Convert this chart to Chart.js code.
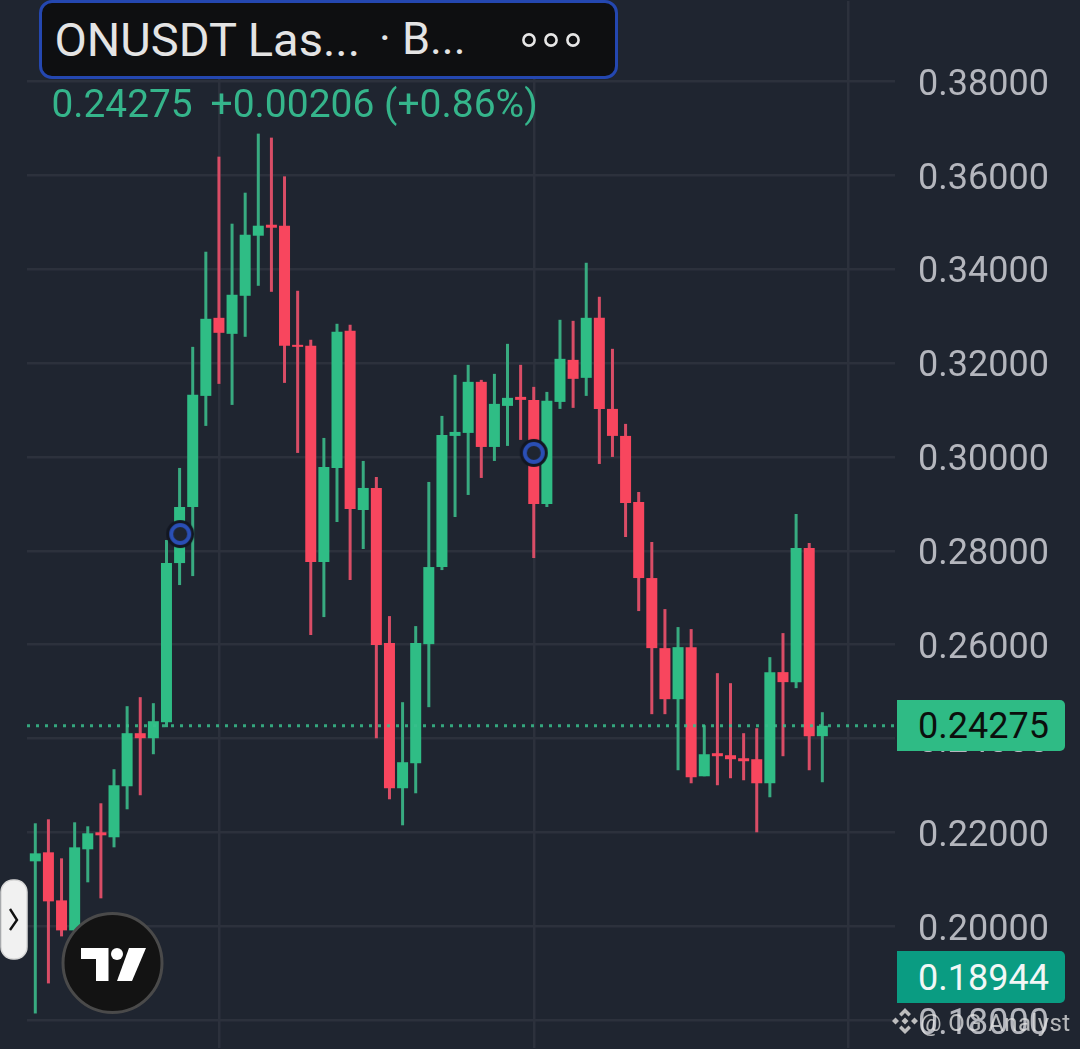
<!DOCTYPE html>
<html>
<head>
<meta charset="utf-8">
<script src="https://cdn.jsdelivr.net/npm/chart.js@4"></script>
<style>
html,body{margin:0;padding:0;background:#1f2530;width:1080px;height:1049px;overflow:hidden;font-family:Roboto,sans-serif}
#wrap{position:relative;width:1080px;height:1049px}
canvas{position:absolute;left:0;top:0}
.abs{position:absolute;white-space:pre;line-height:1}
#box{left:39px;top:0;width:573px;height:73px;background:#0e0f11;border:3px solid #2447b0;border-radius:13px;position:absolute}
.badge{position:absolute;left:897px;width:168px;border-radius:0 5px 5px 0}
svg{position:absolute;overflow:visible}
</style>
</head>
<body>
<div id="wrap">
<canvas id="c" width="1080" height="1049"></canvas>
<div id="box"></div>
<div class="abs" id="title" style="left:54.5px;top:16px;font-size:47px;color:#e4e4e4">ONUSDT Las...</div>
<div class="abs" id="title2" style="left:379px;top:16px;font-size:45px;color:#e4e4e4">· B...</div>
<svg style="left:0;top:0" width="1" height="1"><g fill="none" stroke="#e6e6e6" stroke-width="2.6"><circle cx="529" cy="40" r="5.6"/><circle cx="551" cy="40" r="5.6"/><circle cx="573" cy="40" r="5.6"/></g></svg>
<div class="abs" id="lastInfo" style="left:51.5px;top:85px;font-size:38.8px;color:#35b58b">0.24275</div>
<div class="abs" id="lastInfo2" style="left:210.5px;top:85px;font-size:39px;color:#35b58b">+0.00206 (+0.86%)</div>
<div class="badge" style="top:700px;height:51px;background:#2fbb85"></div>
<div class="abs" style="left:918px;top:708px;font-size:36px;color:#0b0f0d">0.24275</div>
<div class="badge" style="top:951px;height:52px;background:#0a9c82"></div>
<div class="abs" style="left:918px;top:960px;font-size:36px;color:#f2f7f6">0.18944</div>
<svg style="left:0;top:0" width="1" height="1">
  <rect x="1" y="880" width="26" height="79" rx="12" fill="#f1f1f1" stroke="#d6d6d6" stroke-width="1.5"/>
  <path d="M10 909 L17 920 L10 930" fill="none" stroke="#111" stroke-width="2.4"/>
  <circle cx="112.5" cy="963" r="49.5" fill="#131313" stroke="#4a4a4a" stroke-width="3"/>
  <path d="M81 948 H108.5 V981 H96 V959 H81 Z" fill="#fff"/>
  <circle cx="117" cy="954" r="6" fill="#fff"/>
  <path d="M129 948 H146 L132 981 H117 Z" fill="#fff"/>
  <g fill="#cfcfcf" opacity=".9" transform="translate(905 1021)">
    <path d="M0 -13 L6 -7 L3.5 -4.5 L0 -8 L-3.5 -4.5 L-6 -7 Z"/>
    <path d="M0 13 L6 7 L3.5 4.5 L0 8 L-3.5 4.5 L-6 7 Z"/>
    <path d="M-13 0 L-9.5 -3.5 L-6 0 L-9.5 3.5 Z"/>
    <path d="M13 0 L9.5 -3.5 L6 0 L9.5 3.5 Z"/>
    <path d="M0 -3.5 L3.5 0 L0 3.5 L-3.5 0 Z"/>
  </g>
</svg>
<div class="abs" id="wm" style="left:920px;top:1011px;font-size:24px;color:rgba(225,225,225,.78);letter-spacing:.4px">@ OG Analyst</div>
</div>
<script>
// Candle data (prices in USDT)
const bars = [0,1,2,3,4,5,6,7,8,9,10,11,12,13,14,15,16,17,18,19,20,21,22,23,24,25,26,27,28,29,30,31,32,33,34,35,36,37,38,39,40,41,42,43,44,45,46,47,48,49,50,51,52,53,54,55,56,57,58,59,60];
const opens = [.21389,.21581,.20558,.19919,.21645,.22007,.21901,.22987,.24117,.24010,.24351,.27739,.28933,.31298,.32960,.32619,.33429,.34708,.34942,.34921,.32385,.32364,.27761,.29764,.32683,.28869,.29338,.26035,.22945,.23477,.26013,.27654,.30446,.30510,.31597,.30211,.31085,.31277,.31213,.28997,.31170,.32065,.31682,.32960,.31021,.30446,.29039,.27420,.25928,.24841,.25949,.23200,.23691,.23648,.23584,.23563,.23051,.25417,.25204,.28059,.24053];
const highs = [.22199,.22284,.21453,.22220,.22135,.22625,.23350,.24692,.24884,.24756,.28230,.29764,.32342,.34367,.36391,.34964,.35624,.36881,.36796,.35972,.33536,.32492,.30403,.32833,.32811,.29913,.29572,.26610,.24777,.26397,.29466,.30872,.31746,.31959,.31639,.31767,.32406,.31959,.31490,.31383,.32918,.32896,.34132,.33408,.32300,.30702,.29252,.28187,.26759,.26376,.26333,.24287,.25395,.25182,.24117,.24223,.25736,.26248,.28784,.28166,.24564];
const lows = [.18150,.18790,.19791,.19791,.20942,.20601,.21687,.22497,.22796,.23669,.24245,.27271,.27462,.30659,.31554,.31106,.32556,.33642,.33514,.31575,.30084,.26205,.26589,.28613,.27377,.28038,.24010,.22710,.22156,.22838,.24671,.27590,.28720,.29189,.29551,.29913,.30233,.30361,.27846,.28933,.31021,.31043,.31298,.29849,.29998,.28294,.26717,.24522,.24522,.23328,.23051,.23200,.23009,.23158,.23115,.22007,.22753,.23627,.25076,.23328,.23073];
const closes = [.21559,.20537,.19919,.21687,.21986,.21943,.23009,.24117,.24010,.24372,.27739,.28933,.31320,.32939,.32641,.33451,.34729,.34921,.34878,.32364,.32342,.27761,.29785,.32662,.28890,.29338,.25992,.22945,.23499,.26035,.27654,.30467,.30531,.31597,.30211,.31128,.31256,.31213,.28997,.31192,.32087,.31661,.32960,.31021,.30446,.29018,.27420,.25928,.24841,.25949,.23179,.23669,.23627,.23563,.23520,.23051,.25417,.25204,.28059,.24053,.24275];
const priceTicks = [.18,.20,.22,.24,.26,.28,.30,.32,.34,.36,.38];
const timeTicks = [14,38,62];
const lastPrice = 0.24275;
const tradeMarkerBars = [11.05,38];
const tradeMarkerPrices = [.28357,.30084];

const GREEN='#2fbd85', RED='#f8465e', WICK_G='#38ab80', WICK_R='#d94d66';
const up = closes.map((c,i)=>c>=opens[i]);
const xMin=-0.633, xMax=65.54;

// Ring-shaped point style for the trade markers
const ring=document.createElement('canvas');
ring.width=ring.height=30;
(function(){
  const g=ring.getContext('2d');
  g.fillStyle='#131722';g.beginPath();g.arc(15,15,14,0,Math.PI*2);g.fill();
  g.fillStyle='#1f2530';g.strokeStyle='#2a4fb5';g.lineWidth=4;
  g.beginPath();g.arc(15,15,9,0,Math.PI*2);g.fill();g.stroke();
})();

new Chart(document.getElementById('c'),{
  data:{datasets:[
    {type:'bar',order:5,grouped:false,barThickness:3,inflateAmount:0,
     backgroundColor:up.map(u=>u?WICK_G:WICK_R),
     data:bars.map((x,i)=>({x,y:[lows[i],highs[i]]}))},
    {type:'bar',order:4,grouped:false,barThickness:11,inflateAmount:0,
     backgroundColor:up.map(u=>u?GREEN:RED),
     data:bars.map((x,i)=>({x,y:[opens[i],closes[i]]}))},
    {type:'line',order:3,borderColor:'rgba(56,190,140,.85)',borderWidth:3,borderDash:[3,6],pointRadius:0,
     data:[{x:xMin,y:lastPrice},{x:xMax,y:lastPrice}]},
    {type:'scatter',order:1,pointStyle:ring,pointRadius:1,pointHoverRadius:0,pointBorderWidth:0,pointHoverBorderWidth:0,
     data:tradeMarkerBars.map((x,i)=>({x,y:tradeMarkerPrices[i]}))}
  ]},
  options:{
    responsive:false,animation:false,devicePixelRatio:1,
    layout:{padding:{left:27,right:0,top:0,bottom:0}},
    plugins:{legend:{display:false},tooltip:{enabled:false}},
    scales:{
      x:{type:'linear',min:xMin,max:xMax,offset:false,
        afterBuildTicks:s=>{s.ticks=timeTicks.map(value=>({value}));},
        afterFit:s=>{s.height=0;s.paddingLeft=0;s.paddingRight=0;},
        ticks:{display:false},
        border:{display:false},
        grid:{offset:false,color:'#2c313c',lineWidth:2.5,drawTicks:false}},
      y:{type:'linear',position:'right',min:.17415,max:.39705,
        afterBuildTicks:s=>{s.ticks=priceTicks.map(value=>({value}));},
        afterFit:s=>{s.width=185;s.paddingTop=0;s.paddingBottom=0;},
        ticks:{autoSkip:false,padding:23,labelOffset:4.5,color:'#b4b6bd',font:{family:'Roboto',size:36},
          callback:v=>Number(v).toFixed(5)},
        border:{display:false},
        grid:{color:'#2c313c',lineWidth:2.5,drawTicks:false}}
    }
  }
});
</script>
</body>
</html>
